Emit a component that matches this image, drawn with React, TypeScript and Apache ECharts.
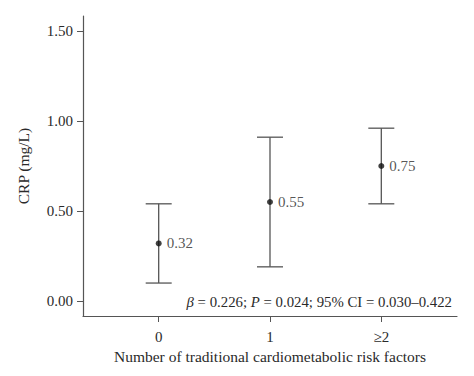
import React, { useEffect, useRef } from "react";
import * as echarts from "echarts";

const categories = ["0", "1", "≥2"];
const means = [0.32, 0.55, 0.75];
const lowerCI = [0.1, 0.19, 0.54];
const upperCI = [0.54, 0.91, 0.96];
const yTicks = [0, 0.5, 1.0, 1.5];

const FONT = "'Liberation Serif', 'DejaVu Serif', serif";

export default function App() {
  const ref = useRef<HTMLDivElement>(null);
  useEffect(() => {
    if (!ref.current) return;
    const chart = echarts.init(ref.current, null, { renderer: "svg" });
    const axisColor = "#555";
    const textColor = "#2a2a2a";
    const errData = categories.map((_, i) => [i, lowerCI[i], upperCI[i]]);
    const ptData = categories.map((_, i) => [i, means[i]]);
    chart.setOption({
      animation: false,
      textStyle: { fontFamily: FONT },
      grid: { left: 83, right: 17, top: 16, bottom: 60 },
      xAxis: {
        type: "value",
        min: -0.68,
        max: 2.68,
        name: "Number of traditional cardiometabolic risk factors",
        nameLocation: "middle",
        nameGap: 30,
        nameTextStyle: { fontFamily: FONT, fontSize: 15.5, color: textColor },
        axisLine: { show: true, onZero: false, lineStyle: { color: axisColor, width: 1.2 } },
        axisTick: { show: true, length: 6, customValues: [0, 1, 2], lineStyle: { color: axisColor } },
        axisLabel: {
          customValues: [0, 1, 2],
          formatter: (v: number) => categories[Math.round(v)] ?? "",
          fontFamily: FONT,
          fontSize: 15,
          color: textColor,
          margin: 13,
        },
        splitLine: { show: false },
      },
      yAxis: {
        type: "value",
        min: -0.083,
        max: 1.583,
        name: "CRP (mg/L)",
        nameLocation: "middle",
        nameGap: 52,
        nameRotate: 90,
        nameTextStyle: { fontFamily: FONT, fontSize: 15.5, color: textColor },
        axisLine: { show: true, onZero: false, lineStyle: { color: axisColor, width: 1.2 } },
        axisTick: { show: true, length: 6, customValues: yTicks, lineStyle: { color: axisColor } },
        axisLabel: {
          customValues: yTicks,
          formatter: (v: number) => v.toFixed(2),
          fontFamily: FONT,
          fontSize: 15,
          color: textColor,
          margin: 10,
        },
        splitLine: { show: false },
      },
      series: [
        {
          type: "custom",
          data: errData,
          renderItem: (params: any, api: any) => {
            const x = api.value(0);
            const lo = api.coord([x, api.value(1)]);
            const hi = api.coord([x, api.value(2)]);
            const hw = 13;
            const style = { stroke: "#555", lineWidth: 1.3 };
            return {
              type: "group",
              children: [
                { type: "line", shape: { x1: lo[0], y1: lo[1], x2: hi[0], y2: hi[1] }, style },
                { type: "line", shape: { x1: lo[0] - hw, y1: lo[1], x2: lo[0] + hw, y2: lo[1] }, style },
                { type: "line", shape: { x1: hi[0] - hw, y1: hi[1], x2: hi[0] + hw, y2: hi[1] }, style },
              ],
            };
          },
          z: 2,
        },
        {
          type: "scatter",
          data: ptData,
          symbol: "circle",
          symbolSize: 6,
          itemStyle: { color: "#111" },
          label: {
            show: true,
            position: "right",
            distance: 5,
            formatter: (p: any) => p.value[1].toFixed(2),
            fontFamily: FONT,
            fontSize: 15,
            color: textColor,
          },
          z: 3,
        },
      ],
      graphic: [
        {
          type: "text",
          right: 22,
          top: 294,
          style: {
            text: "{i|β} = 0.226; {i|P} = 0.024; 95% CI = 0.030–0.422",
            fontFamily: FONT,
            fontSize: 14.8,
            fill: textColor,
            rich: {
              i: { fontFamily: FONT, fontSize: 14.8, fontStyle: "italic", fill: textColor },
            },
          },
        },
      ],
    });
    return () => chart.dispose();
  }, []);
  return <div ref={ref} style={{ width: 474, height: 376, position: "absolute", left: 0, top: 0 }} />;
}
